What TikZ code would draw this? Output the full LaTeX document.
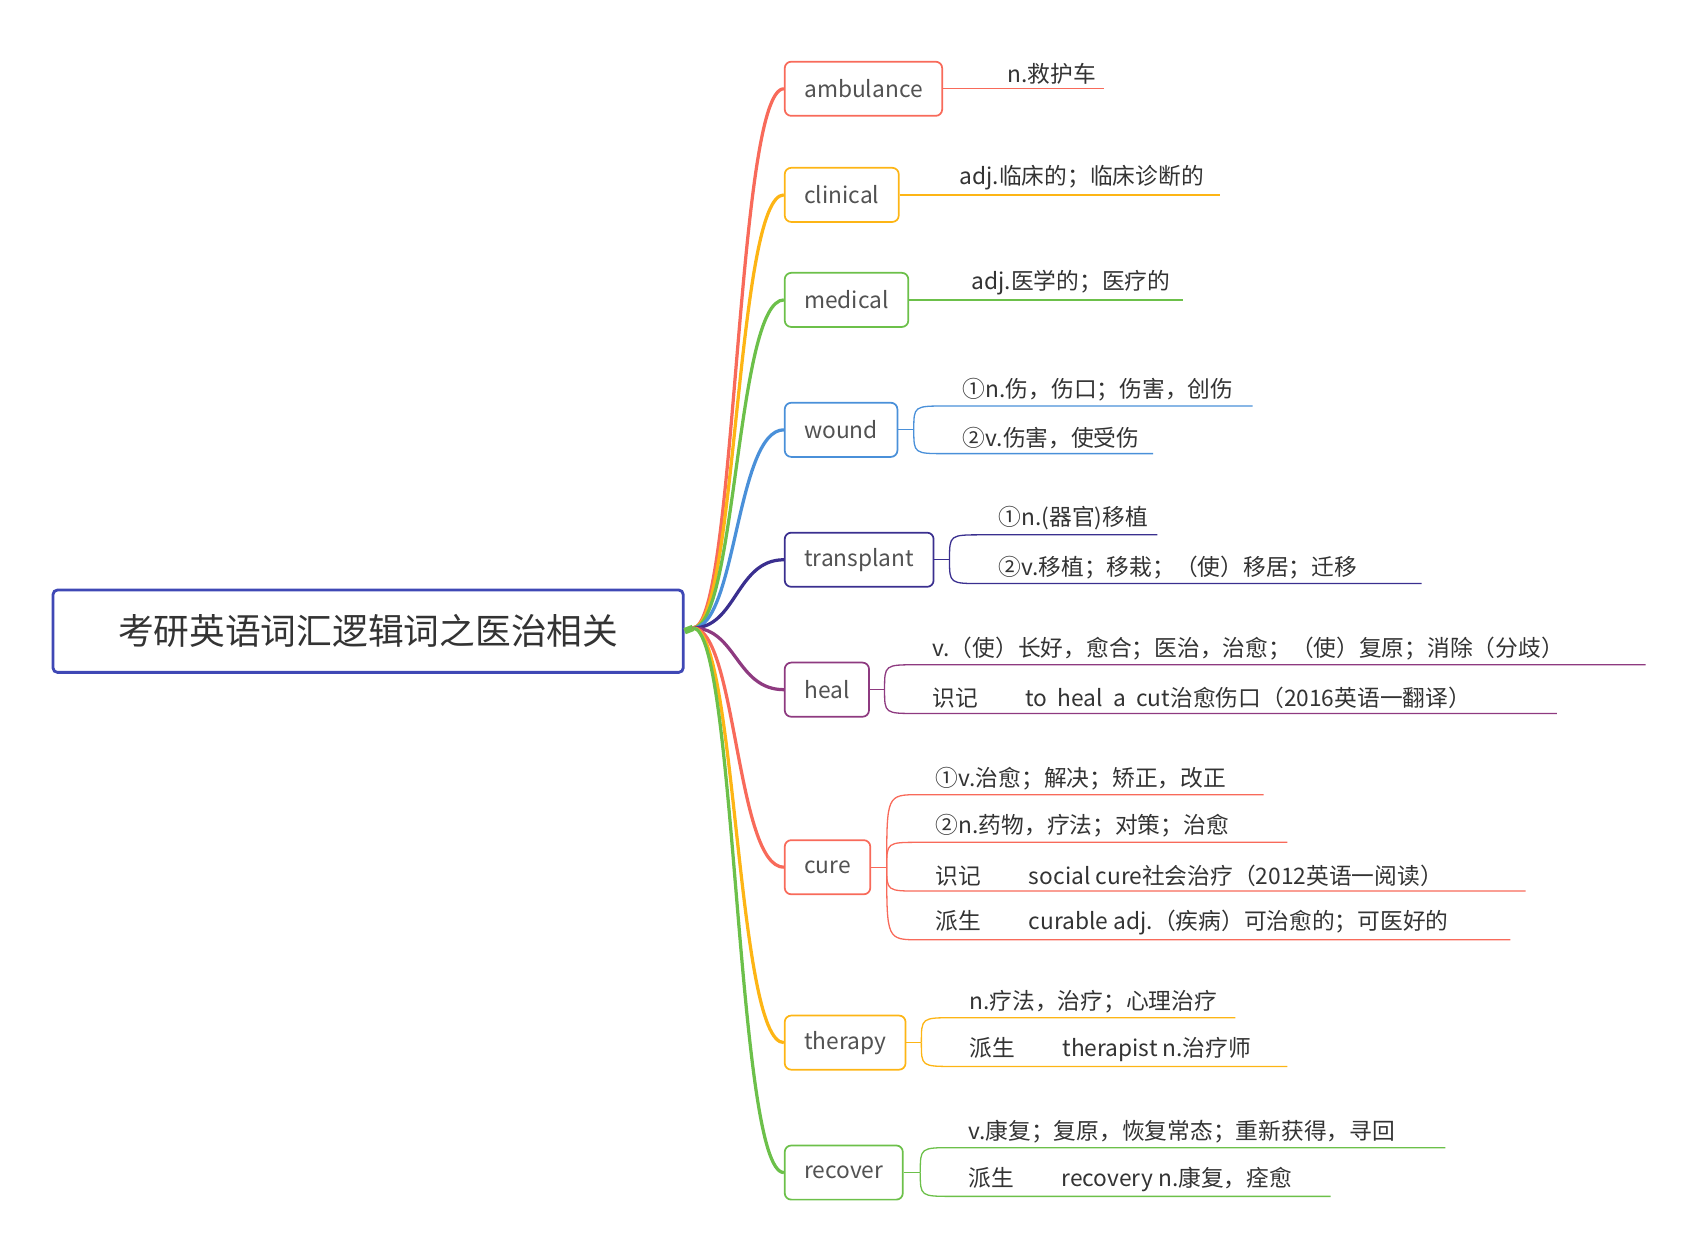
\documentclass[tikz,border=0pt]{standalone}
\usepackage{fontspec}
\setmainfont{Noto Sans CJK SC}
\definecolor{rootc}{HTML}{3F48B5}
\definecolor{redc}{HTML}{F86A5A}
\definecolor{yelc}{HTML}{FDB515}
\definecolor{grnc}{HTML}{6CC04A}
\definecolor{bluc}{HTML}{4A90D9}
\definecolor{indc}{HTML}{3A2F8F}
\definecolor{purc}{HTML}{8E3A80}
\definecolor{txtc}{HTML}{333333}
\newcommand{\gap}{\hspace{22pt}}
\begin{document}
\begin{tikzpicture}[x=0.5pt, y=-0.5pt,
    topic/.style={draw, rounded corners=3pt, line width=0.8pt, minimum height=25pt,
      inner xsep=9pt, font=\fontsize{10.5}{12}\selectfont, text=txtc!85},
    leaf/.style={anchor=south west, inner sep=2pt, font=\fontsize{10.5}{12}\selectfont, text=txtc},
    branch/.style={line width=1.5pt},
    twig/.style={line width=0.6pt}]
  \useasboundingbox (0,0) rectangle (1560,1149);

  \node[draw=rootc, line width=1.3pt, rounded corners=2pt, minimum width=291pt, minimum height=38pt,
    font=\fontsize{16.5}{18}\selectfont, text=txtc] (root) at (340,583) {考研英语词汇逻辑词之医治相关};
  \coordinate (hub) at (640,580);
  \draw[grnc, line width=3pt] (root.east) -- (hub);

  % topics
  \node[topic, draw=redc, anchor=west] (ambulance) at (724,82) {ambulance};
  \node[topic, draw=yelc, anchor=west] (clinical) at (724,180) {clinical};
  \node[topic, draw=grnc, anchor=west] (medical) at (724,277) {medical};
  \node[topic, draw=bluc, anchor=west] (wound) at (724,397) {wound};
  \node[topic, draw=indc, anchor=west] (transplant) at (724,517) {transplant};
  \node[topic, draw=purc, anchor=west] (heal) at (724,637) {heal};
  \node[topic, draw=redc, anchor=west] (cure) at (724,801) {cure};
  \node[topic, draw=yelc, anchor=west] (therapy) at (724,963) {therapy};
  \node[topic, draw=grnc, anchor=west] (recover) at (724,1083) {recover};

  % branches
  \draw[branch, redc] (hub) .. controls (680,580) and (680,82) .. (ambulance.west);
  \draw[branch, yelc] (hub) .. controls (680,580) and (680,180) .. (clinical.west);
  \draw[branch, grnc] (hub) .. controls (680,580) and (680,277) .. (medical.west);
  \draw[branch, bluc] (hub) .. controls (680,580) and (680,397) .. (wound.west);
  \draw[branch, indc] (hub) .. controls (680,580) and (680,517) .. (transplant.west);
  \draw[branch, purc] (hub) .. controls (680,580) and (680,637) .. (heal.west);
  \draw[branch, redc] (hub) .. controls (680,580) and (680,801) .. (cure.west);
  \draw[branch, yelc] (hub) .. controls (680,580) and (680,963) .. (therapy.west);
  \draw[branch, grnc] (hub) .. controls (680,580) and (680,1083) .. (recover.west);

  % single leaves
  \coordinate (ambE) at (1020,82);
  \draw[twig, redc] (ambulance.east) -- (ambE);
  \node[leaf] (amb1) at (926,82) {n.救护车};
  \coordinate (cliE) at (1127,180);
  \draw[twig, yelc] (clinical.east) -- (cliE);
  \node[leaf] (cli1) at (882,180) {adj.临床的；临床诊断的};
  \coordinate (medE) at (1093,277);
  \draw[twig, grnc] (medical.east) -- (medE);
  \node[leaf] (med1) at (893,277) {adj.医学的；医疗的};

  % wound
  \coordinate (wouF) at (844,397);
  \coordinate (wouA) at (1157,375);
  \coordinate (wouB) at (1065,419);
  \draw[twig, bluc] (wound.east) -- (wouF);
  \draw[twig, bluc] (wouF) .. controls (844,375) .. (874,375) -- (wouA);
  \draw[twig, bluc] (wouF) .. controls (844,419) .. (874,419) -- (wouB);
  \node[leaf] (wou1) at (885,375) {①n.伤，伤口；伤害，创伤};
  \node[leaf] (wou2) at (885,419) {②v.伤害，使受伤};

  % transplant
  \coordinate (traF) at (877,517);
  \coordinate (traA) at (1069,494);
  \coordinate (traB) at (1313,539);
  \draw[twig, indc] (transplant.east) -- (traF);
  \draw[twig, indc] (traF) .. controls (877,494) .. (907,494) -- (traA);
  \draw[twig, indc] (traF) .. controls (877,539) .. (907,539) -- (traB);
  \node[leaf] (tra1) at (918,494) {①n.(器官)移植};
  \node[leaf] (tra2) at (918,539) {②v.移植；移栽；（使）移居；迁移};

  % heal
  \coordinate (heaF) at (817,637);
  \coordinate (heaA) at (1520,614);
  \coordinate (heaB) at (1438,659);
  \draw[twig, purc] (heal.east) -- (heaF);
  \draw[twig, purc] (heaF) .. controls (817,614) .. (847,614) -- (heaA);
  \draw[twig, purc] (heaF) .. controls (817,659) .. (847,659) -- (heaB);
  \node[leaf] (hea1) at (857,614) {v.（使）长好，愈合；医治，治愈；（使）复原；消除（分歧）};
  \node[leaf] (hea2) at (857,659) {识记\gap to\ \ heal\ \ a\ \ cut治愈伤口（2016英语一翻译）};

  % cure
  \coordinate (curF) at (819,801);
  \coordinate (curA) at (1167,734);
  \coordinate (curB) at (1189,778);
  \coordinate (curC) at (1409,823);
  \coordinate (curD) at (1395,868);
  \draw[twig, redc] (cure.east) -- (curF);
  \draw[twig, redc] (curF) .. controls (819,734) .. (849,734) -- (curA);
  \draw[twig, redc] (curF) .. controls (819,778) .. (849,778) -- (curB);
  \draw[twig, redc] (curF) .. controls (819,823) .. (849,823) -- (curC);
  \draw[twig, redc] (curF) .. controls (819,868) .. (849,868) -- (curD);
  \node[leaf] (cur1) at (860,734) {①v.治愈；解决；矫正，改正};
  \node[leaf] (cur2) at (860,778) {②n.药物，疗法；对策；治愈};
  \node[leaf] (cur3) at (860,823) {识记\gap social cure社会治疗（2012英语一阅读）};
  \node[leaf] (cur4) at (860,868) {派生\gap curable adj.（疾病）可治愈的；可医好的};

  % therapy
  \coordinate (theF) at (851,963);
  \coordinate (theA) at (1141,940);
  \coordinate (theB) at (1189,985);
  \draw[twig, yelc] (therapy.east) -- (theF);
  \draw[twig, yelc] (theF) .. controls (851,940) .. (881,940) -- (theA);
  \draw[twig, yelc] (theF) .. controls (851,985) .. (881,985) -- (theB);
  \node[leaf] (the1) at (891,940) {n.疗法，治疗；心理治疗};
  \node[leaf] (the2) at (891,985) {派生\gap therapist n.治疗师};

  % recover
  \coordinate (recF) at (850,1083);
  \coordinate (recA) at (1335,1060);
  \coordinate (recB) at (1229,1105);
  \draw[twig, grnc] (recover.east) -- (recF);
  \draw[twig, grnc] (recF) .. controls (850,1060) .. (880,1060) -- (recA);
  \draw[twig, grnc] (recF) .. controls (850,1105) .. (880,1105) -- (recB);
  \node[leaf] (rec1) at (890,1060) {v.康复；复原，恢复常态；重新获得，寻回};
  \node[leaf] (rec2) at (890,1105) {派生\gap recovery n.康复，痊愈};
\end{tikzpicture}
\end{document}
